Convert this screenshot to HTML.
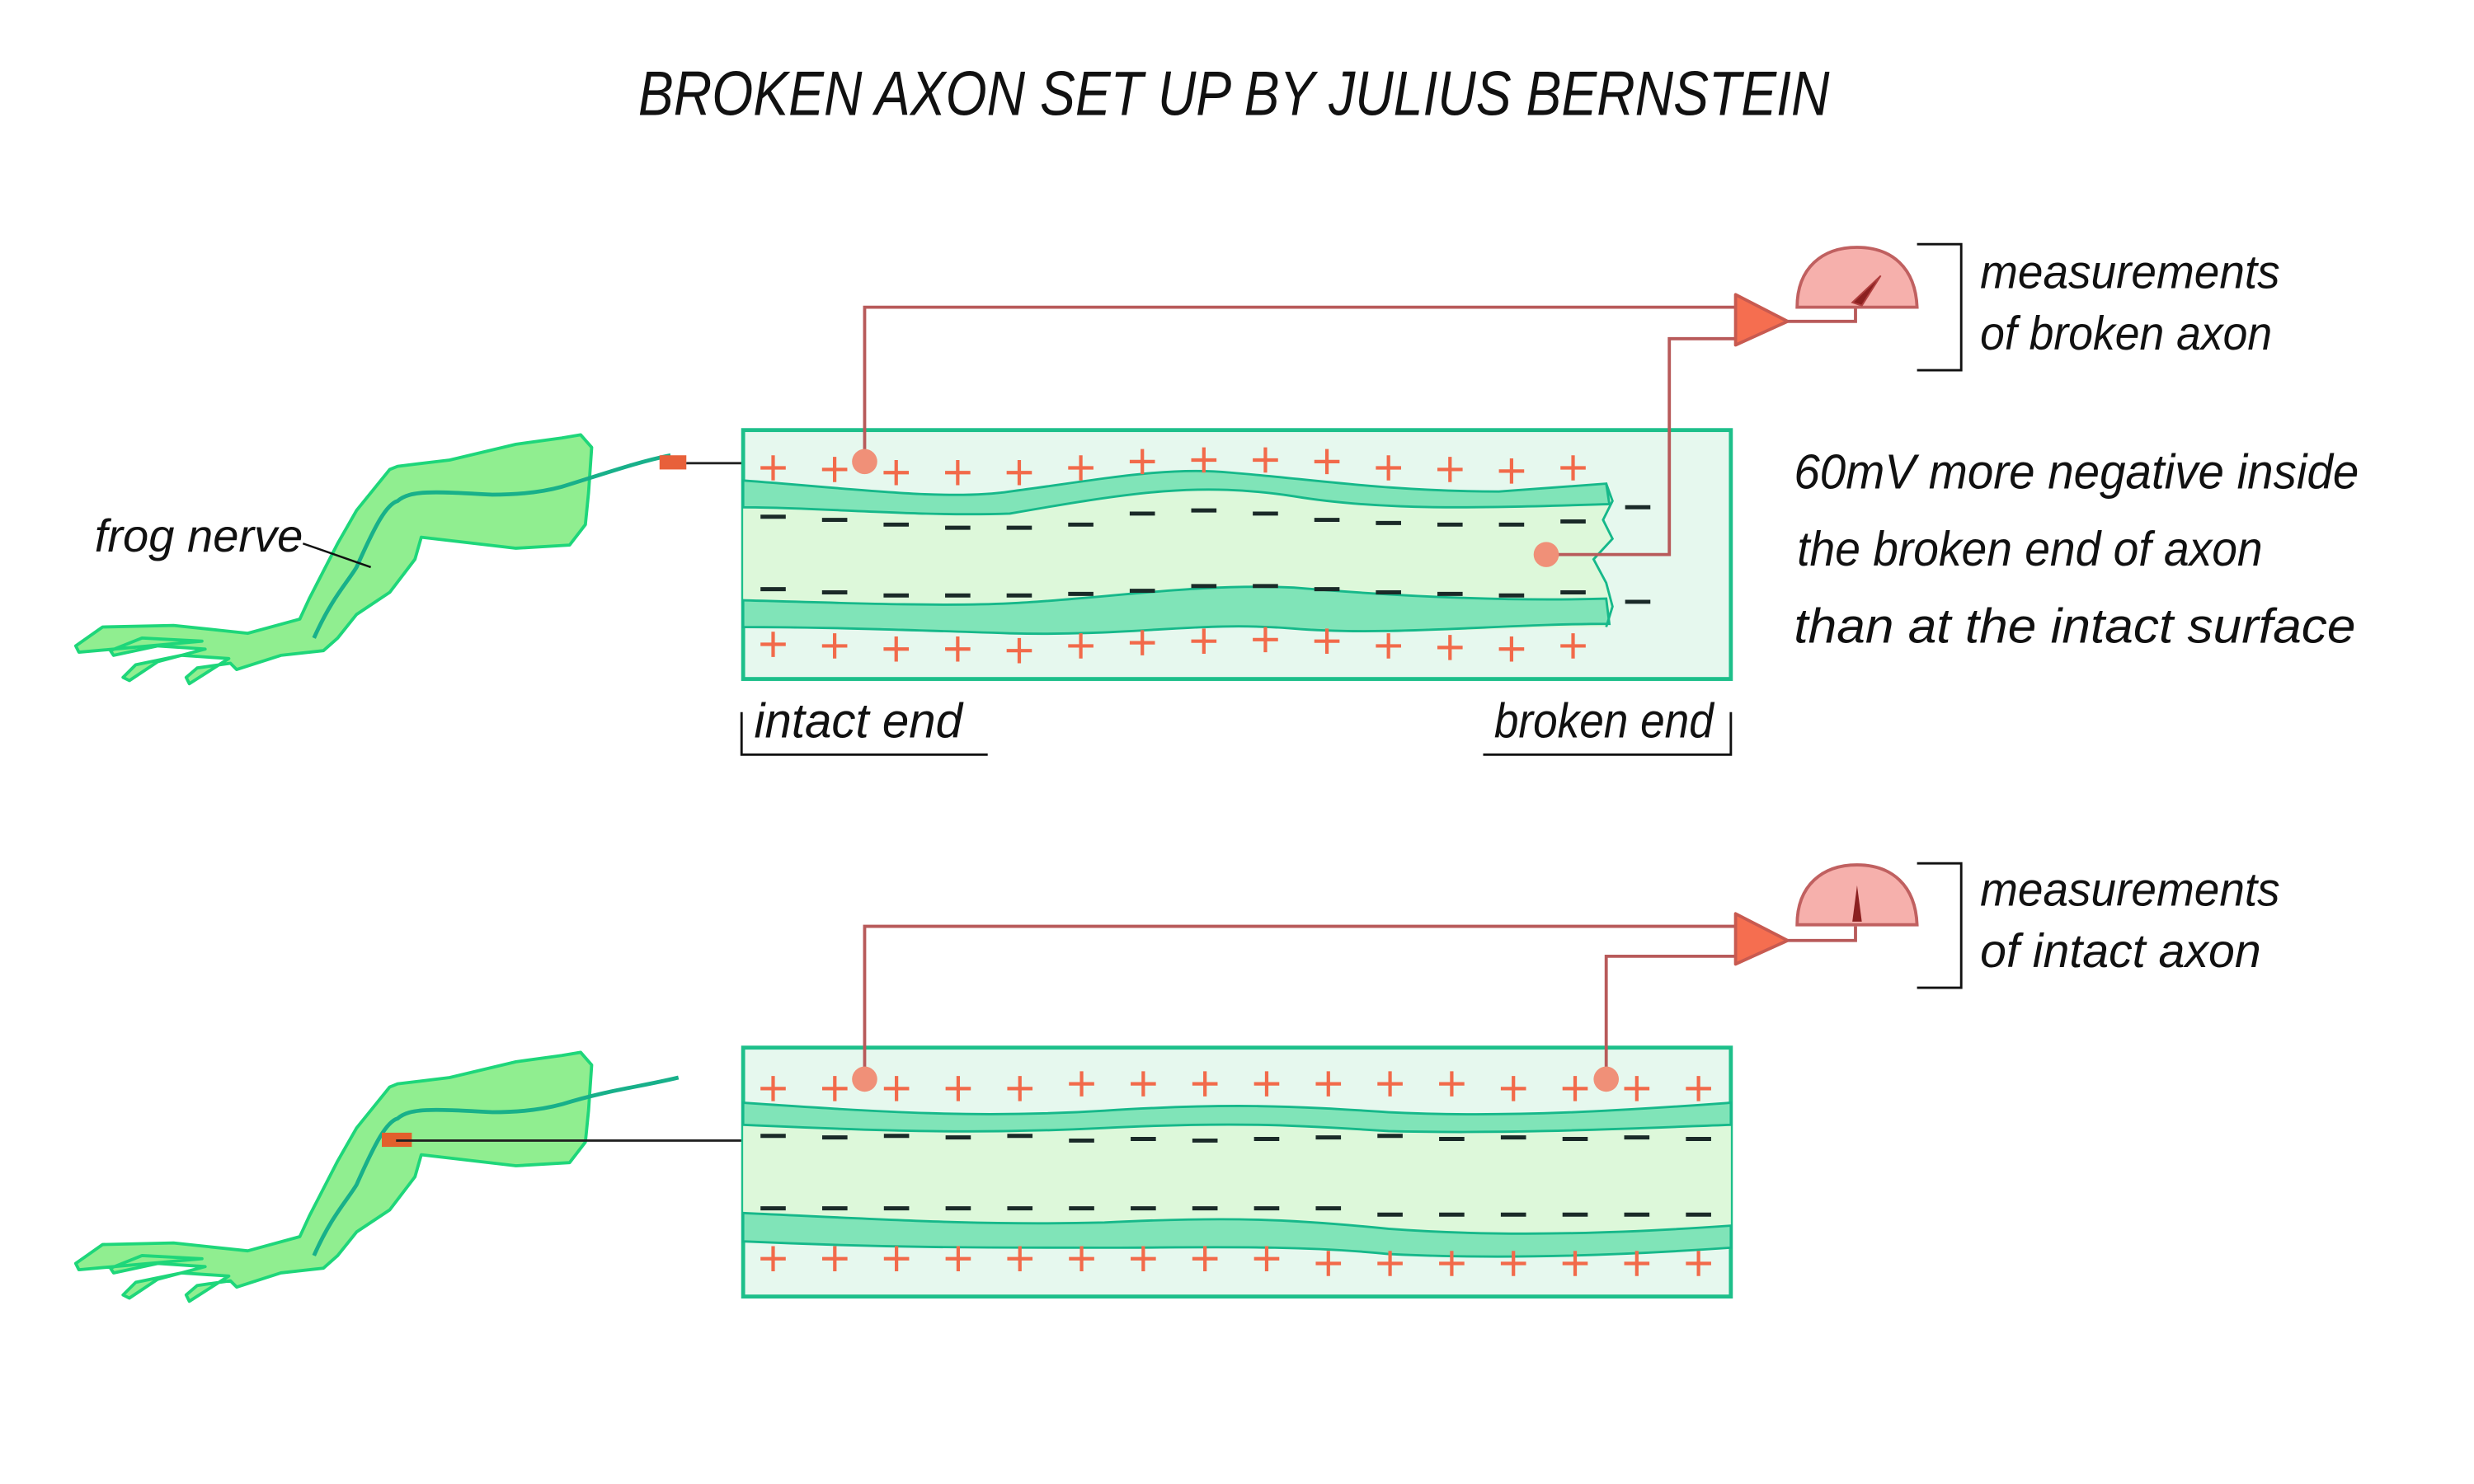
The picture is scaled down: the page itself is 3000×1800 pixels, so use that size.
<!DOCTYPE html>
<html><head><meta charset="utf-8"><style>
html,body{margin:0;padding:0;background:#fff;}
svg{display:block}
text{font-family:"Liberation Sans",sans-serif;font-style:italic;fill:#111;}
</style></head><body>
<svg id="s" width="3000" height="1800" viewBox="0 0 1568 942" preserveAspectRatio="none" xmlns="http://www.w3.org/2000/svg">
<rect width="1568" height="942" fill="#fff"/>
<text x="782" y="73" font-size="40" text-anchor="middle" textLength="755" lengthAdjust="spacingAndGlyphs">BROKEN AXON SET UP BY JULIUS BERNSTEIN</text>

<defs>
<g id="leg">
<path d="M368,668 L375,676 L373,705 L371,725 L361,738 L327,740 L267,733 L263,747 L247,768 L226,782 L214,797 L205,805 L178,808 L150,817 L146,813 L125,816 L118,822 L120,826 L145,810 L115,808 L86,814 L78,822 L82,824 L100,812 L130,804 L100,802 L72,808 L70,805 L90,797 L128,799 L50,806 L48,802 L65,790 L110,789 L157,794 L190,785 L196,772 L214,737 L226,716 L247,690 L252,688 L285,684 L327,674 L356,670 Z" fill="#90ee90" stroke="#1ed67a" stroke-width="2" stroke-linejoin="round"/>
</g>
</defs>

<!-- TOP FROG -->
<g transform="translate(0,-392)">
<use href="#leg"/>
<path d="M199,797 C210,772 220,762 226,752 C238,725 245,712 252,710 C260,703 275,704 312,706 C330,706 345,704 356,701 C385,692 405,685 425,681" fill="none" stroke="#18b08a" stroke-width="2.5"/>
</g>
<path d="M192,345 L235,360" stroke="#111" stroke-width="1.3"/>
<text x="60" y="350" font-size="29" textLength="132" lengthAdjust="spacingAndGlyphs">frog nerve</text>
<rect x="418" y="289" width="17" height="9" fill="#e8603a"/>
<line x1="435" y1="294" x2="471" y2="294" stroke="#222" stroke-width="1.5"/>

<!-- BOTTOM FROG -->
<use href="#leg"/>
<path d="M199,797 C210,772 220,762 226,752 C238,725 245,712 252,710 C260,703 275,704 312,706 C330,706 345,704 356,701 C385,692 405,690 430,684" fill="none" stroke="#18b08a" stroke-width="2.5"/>
<rect x="242" y="719" width="19" height="9" fill="#e2602c"/>
<line x1="251" y1="724" x2="471" y2="724" stroke="#222" stroke-width="1.5"/>

<!-- TOP BOX -->
<rect x="471" y="273" width="626" height="158" fill="#e6f8ee" stroke="#1dbf8a" stroke-width="2.5"/>
<path d="M471,305 C540,310 600,318 640,312 C700,304 740,296 780,300 C830,304 880,312 950,312 L1018,307 L1022,318 L1016,330 L1022,342 L1010,355 L1018,370 L1022,385 L1018,398 C950,398 880,404 820,399 C760,394 720,404 640,402 C580,400 520,398 471,398 Z" fill="#ddf8da"/>
<path d="M471,305 C540,310 600,318 640,312 C700,304 740,296 780,300 C830,304 880,312 950,312 L1018,307 L1020,320 C950,322 880,325 820,315 C760,306 720,312 640,326 C580,328 520,322 471,322 Z" fill="#80e4b8" stroke="#16b88a" stroke-width="1.5"/>
<path d="M471,381 C540,383 600,385 640,383 C700,380 760,370 820,373 C880,378 950,382 1018,380 L1020,396 C950,396 880,404 820,399 C760,394 720,404 640,402 C580,400 520,398 471,398 Z" fill="#80e4b8" stroke="#16b88a" stroke-width="1.5"/>
<path d="M1018,307 L1022,318 L1016,330 L1022,342 L1010,355 L1018,370 L1022,385 L1018,398" fill="none" stroke="#16b88a" stroke-width="1.5"/>
<g id="topmarks"></g>

<!-- wires top -->
<path d="M548,293 L548,195 L1100,195" fill="none" stroke="#b85a5a" stroke-width="2"/>
<path d="M980,352 L1058,352 L1058,215 L1100,215" fill="none" stroke="#b85a5a" stroke-width="2"/>
<circle cx="548" cy="293" r="8" fill="#f09078"/>
<circle cx="980" cy="352" r="8" fill="#f09078"/>
<polygon points="1100,187 1100,219 1133,204" fill="#f56e50" stroke="#c85a50" stroke-width="2" stroke-linejoin="round"/>
<path d="M1133,204 L1176,204 L1176,196" fill="none" stroke="#b85a5a" stroke-width="2"/>
<path d="M1139,195 C1139,170 1155,157 1177,157 C1199,157 1214,170 1215,195 Z" fill="#f6b0ac" stroke="#c06060" stroke-width="2"/>
<polygon points="1174,192 1192,175 1180,194" fill="#8b2020" stroke="#b04040" stroke-width="1"/>
<path d="M1215,155 L1243,155 L1243,235 L1215,235" fill="none" stroke="#111" stroke-width="1.5"/>
<text x="1255" y="183" font-size="30" textLength="190" lengthAdjust="spacingAndGlyphs">measurements</text>
<text x="1255" y="222" font-size="30" textLength="185" lengthAdjust="spacingAndGlyphs">of broken axon</text>
<text x="1137" y="310" font-size="31" textLength="358" lengthAdjust="spacingAndGlyphs">60mV more negative inside</text>
<text x="1139" y="359" font-size="31" textLength="295" lengthAdjust="spacingAndGlyphs">the broken end of axon</text>
<text x="1137" y="408" font-size="31" textLength="356" lengthAdjust="spacingAndGlyphs">than at the intact surface</text>
<path d="M470,452 L470,479 L626,479" fill="none" stroke="#111" stroke-width="1.5"/>
<text x="478" y="468" font-size="31" textLength="132" lengthAdjust="spacingAndGlyphs">intact end</text>
<path d="M1097,452 L1097,479 L940,479" fill="none" stroke="#111" stroke-width="1.5"/>
<text x="947" y="468" font-size="31" textLength="139" lengthAdjust="spacingAndGlyphs">broken end</text>

<!-- BOTTOM BOX -->
<rect x="471" y="665" width="626" height="158" fill="#e6f8ee" stroke="#1dbf8a" stroke-width="2.5"/>
<path d="M471,700 C560,706 620,710 700,705 C780,700 820,702 880,706 C960,710 1040,704 1097,700 L1097,790 C1040,792 960,800 880,796 C820,790 760,792 700,790 C620,790 560,792 471,788 Z" fill="#ddf8da"/>
<path d="M471,700 C560,706 620,710 700,705 C780,700 820,702 880,706 C960,710 1040,704 1097,700 L1097,714 C1040,716 960,720 880,718 C820,714 780,712 700,716 C620,720 560,718 471,714 Z" fill="#80e4b8" stroke="#16b88a" stroke-width="1.5"/>
<path d="M471,770 C560,774 620,778 700,776 C780,772 820,774 880,780 C960,786 1040,782 1097,778 L1097,792 C1040,796 960,800 880,796 C820,790 760,792 700,792 C620,792 560,792 471,788 Z" fill="#80e4b8" stroke="#16b88a" stroke-width="1.5"/>
<g id="botmarks"></g>
<path d="M548,685 L548,588 L1100,588" fill="none" stroke="#b85a5a" stroke-width="2"/>
<path d="M1018,685 L1018,607 L1100,607" fill="none" stroke="#b85a5a" stroke-width="2"/>
<circle cx="548" cy="685" r="8" fill="#f09078"/>
<circle cx="1018" cy="685" r="8" fill="#f09078"/>
<polygon points="1100,580 1100,612 1133,597" fill="#f56e50" stroke="#c85a50" stroke-width="2" stroke-linejoin="round"/>
<path d="M1133,597 L1176,597 L1176,588" fill="none" stroke="#b85a5a" stroke-width="2"/>
<path d="M1139,587 C1139,562 1155,549 1177,549 C1199,549 1214,562 1215,587 Z" fill="#f6b0ac" stroke="#c06060" stroke-width="2"/>
<polygon points="1174,585 1177,562 1180,585" fill="#8b2020"/>
<path d="M1215,548 L1243,548 L1243,627 L1215,627" fill="none" stroke="#111" stroke-width="1.5"/>
<text x="1255" y="575" font-size="30" textLength="190" lengthAdjust="spacingAndGlyphs">measurements</text>
<text x="1255" y="614" font-size="30" textLength="178" lengthAdjust="spacingAndGlyphs">of intact axon</text>
</svg>
<script>
var NS="http://www.w3.org/2000/svg";
function plus(g,x,y){var p=document.createElementNS(NS,"path");p.setAttribute("d","M"+(x-8)+","+y+"h16M"+x+","+(y-8)+"v16");p.setAttribute("stroke","#f26a4a");p.setAttribute("stroke-width","2.2");p.setAttribute("fill","none");g.appendChild(p);}
function minus(g,x,y){var p=document.createElementNS(NS,"path");p.setAttribute("d","M"+(x-8)+","+y+"h16");p.setAttribute("stroke","#1a2a28");p.setAttribute("stroke-width","2.6");g.appendChild(p);}
var tg=document.getElementById("topmarks"),bg=document.getElementById("botmarks");
var tp=[297,298,300,300,300,297,293,292,292,293,297,298,299,297];
var tb=[409,410,412,412,413,410,408,407,406,407,410,411,412,410];
var mt=[328,330,333,335,335,333,326,324,326,330,332,333,333,331];
var mb=[374,376,378,378,378,377,375,372,372,374,376,377,378,376];
for(var i=0;i<14;i++){var x=490+39*i;plus(tg,x,tp[i]);plus(tg,x,tb[i]);minus(tg,x,mt[i]);minus(tg,x,mb[i]);}
minus(tg,1038,322);minus(tg,1038,382);
for(var i=0;i<16;i++){var x=490+39.1*i;
plus(bg,x,689+(i>4&&i<12?-1:2));plus(bg,x,799+(i>8?3:0));
minus(bg,x,721+(i>4&&i<9?2:(i>10?1:0))+ (i%2));minus(bg,x,767+(i>9?4:0));}
</script>
</body></html>
